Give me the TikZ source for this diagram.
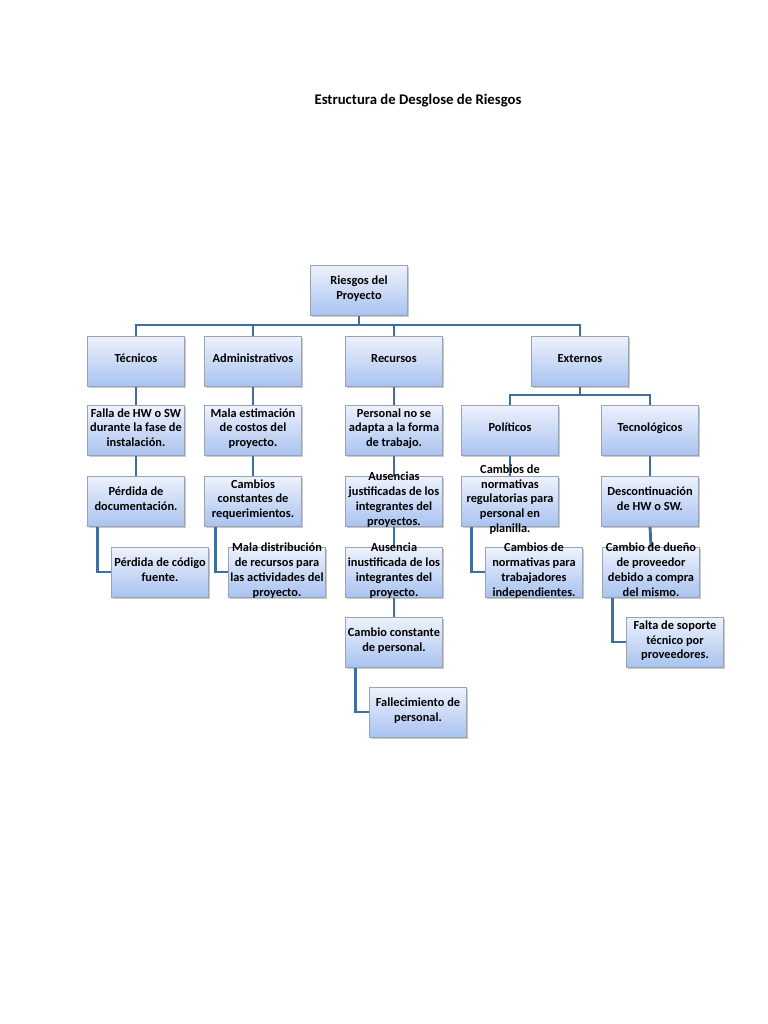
\documentclass[tikz,border=0pt]{standalone}
\usepackage{fontspec}
\setmainfont{Carlito}
\usepackage{tikz}
\usetikzlibrary{positioning,shadows,backgrounds}

\definecolor{linkblue}{HTML}{3F6EA3}
\definecolor{boxtop}{HTML}{EEF2FC}
\definecolor{boxbot}{HTML}{A9C3F0}
\definecolor{boxline}{HTML}{9AA3B3}

% text of a box, centred and allowed to run over the edges
\newcommand{\cell}[1]{\smash{\raisebox{-2pt}{\begin{tabular}[c]{@{}c@{}}#1\end{tabular}}}}

\begin{document}
\begin{tikzpicture}[x=1bp, y=-1bp,
    box/.style={rectangle, draw=boxline, line width=0.6pt, top color=boxtop, bottom color=boxbot,
        minimum width=97bp, minimum height=50bp, inner sep=0pt,
        font=\fontsize{12.4}{15}\selectfont\bfseries,
        drop shadow={shadow xshift=1.5pt, shadow yshift=-2pt, opacity=0.35, fill=black!60}},
    link/.style={draw=linkblue, line width=2.9pt}]

\useasboundingbox (0,0) rectangle (768,1024);

% Title
\node[font=\fontsize{14.8}{17}\selectfont\bfseries] (title) at (418, 101) {Estructura de Desglose de Riesgos};

% Root and first level
\node[box] (root) at (359, 290) {\cell{Riesgos del\\Proyecto}};
\node[box] (tec) at (136, 361) {\cell{Técnicos}};
\node[box] (adm) at (253, 361) {\cell{Administrativos}};
\node[box] (rec) at (394, 361) {\cell{Recursos}};
\node[box] (ext) at (580, 361) {\cell{Externos}};

% Externos branches
\node[box] (pol) at (510, 430) {\cell{Políticos}};
\node[box] (tcn) at (650, 430) {\cell{Tecnológicos}};

% Técnicos
\node[box] (tec1) at (136, 430) {\cell{Falla de HW o SW\\durante la fase de\\instalación.}};
\node[box] (tec2) at (136, 501) {\cell{Pérdida de\\documentación.}};
\node[box] (tec3) at (160, 572) {\cell{Pérdida de código\\fuente.}};

% Administrativos
\node[box] (adm1) at (253, 430) {\cell{Mala estimación\\de costos del\\proyecto.}};
\node[box] (adm2) at (253, 501) {\cell{Cambios\\constantes de\\requerimientos.}};
\node[box] (adm3) at (277, 572) {\cell{Mala distribución\\de recursos para\\las actividades del\\proyecto.}};

% Recursos
\node[box] (rec1) at (394, 430) {\cell{Personal no se\\adapta a la forma\\de trabajo.}};
\node[box] (rec2) at (394, 501) {\cell{Ausencias\\justificadas de los\\integrantes del\\proyectos.}};
\node[box] (rec3) at (394, 572) {\cell{Ausencia\\inustificada de los\\integrantes del\\proyecto.}};
\node[box] (rec4) at (394, 642) {\cell{Cambio constante\\de personal.}};
\node[box] (rec5) at (418, 712) {\cell{Fallecimiento de\\personal.}};

% Políticos
\node[box] (pol1) at (510, 501) {\cell{Cambios de\\normativas\\regulatorias para\\personal en\\planilla.}};
\node[box] (pol2) at (534, 572) {\cell{Cambios de\\normativas para\\trabajadores\\independientes.}};

% Tecnológicos
\node[box] (tcn1) at (650, 501) {\cell{Descontinuación\\de HW o SW.}};
\node[box] (tcn2) at (651, 572) {\cell{Cambio de dueño\\de proveedor\\debido a compra\\del mismo.}};
\node[box] (tcn3) at (675, 642) {\cell{Falta de soporte\\técnico por\\proveedores.}};

\coordinate (bus) at (359, 325);
\coordinate (extbus) at (580, 395);

\begin{scope}[on background layer]
% Root bus
\draw[link] (root.south) -- (bus);
\foreach \n in {tec,adm,rec,ext}
    \draw[link] (\n.north) |- (bus);

% Externos bus
\draw[link] (ext.south) -- (extbus);
\foreach \n in {pol,tcn}
    \draw[link] (\n.north) |- (extbus);

% Straight chains
\draw[link] (tec.south) -- (tec1.north);
\draw[link] (tec1.south) -- (tec2.north);
\draw[link] (adm.south) -- (adm1.north);
\draw[link] (adm1.south) -- (adm2.north);
\draw[link] (rec.south) -- (rec1.north);
\draw[link] (rec1.south) -- (rec2.north);
\draw[link] (rec2.south) -- (rec3.north);
\draw[link] (rec3.south) -- (rec4.north);
\draw[link] (pol.south) -- (pol1.north);
\draw[link] (tcn.south) -- (tcn1.north);
\draw[link] (tcn1.south) -- (tcn2.north);

% Elbows
\draw[link] ([xshift=10bp]tec2.south west) |- (tec3.west);
\draw[link] ([xshift=11bp]adm2.south west) |- (adm3.west);
\draw[link] ([xshift=10bp]rec4.south west) |- (rec5.west);
\draw[link] ([xshift=10bp]pol1.south west) |- (pol2.west);
\draw[link] ([xshift=10bp]tcn2.south west) |- (tcn3.west);
\end{scope}

\end{tikzpicture}
\end{document}
